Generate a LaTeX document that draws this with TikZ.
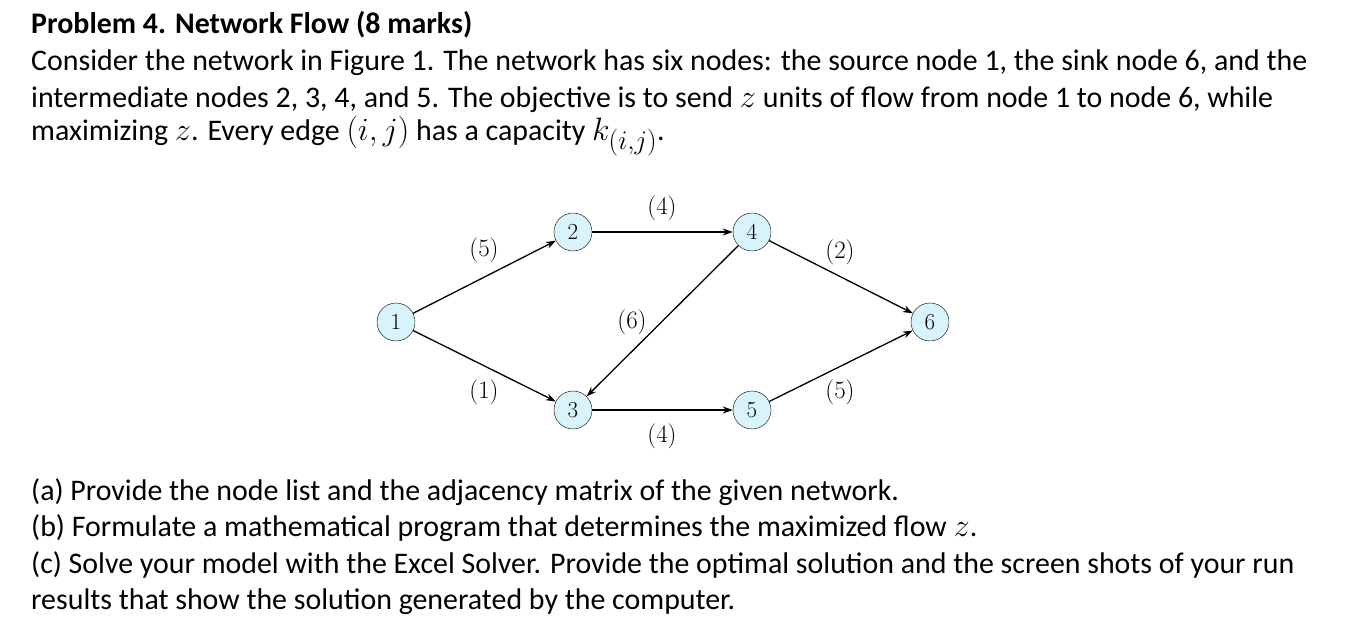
\documentclass[tikz,border=0pt]{standalone}
\usepackage{fontspec}
\setmainfont{Carlito}
\newfontfamily\lmr{Latin Modern Roman}
\usetikzlibrary{arrows.meta}
\newcommand{\mymath}[1]{\scalebox{1.3}{$#1$}}
\begin{document}
\begin{tikzpicture}[x=1pt,y=-1pt,
  txt/.style={anchor=west,inner sep=0pt,font=\fontsize{29.9}{32}\selectfont},
  nd/.style={circle,draw,fill=cyan!15,minimum size=38pt,inner sep=0pt,font=\lmr\fontsize{23}{23}\selectfont},
  lab/.style={font=\lmr\fontsize{25}{25}\selectfont},
  ed/.style={draw,line width=1.3pt,-{Stealth[length=10pt,width=7pt]}}]
\useasboundingbox (0,0) rectangle (1346,636);
\node[txt,font=\bfseries\fontsize{29.9}{32}\selectfont] (t0) at (31,25) {Problem 4. Network Flow (8 marks)};
\node[txt] (t1) at (31,63) {Consider the network in Figure 1. The network has six nodes: the source node 1, the sink node 6, and the};
\node[txt] (t2) at (31,100) {intermediate nodes 2, 3, 4, and 5. The objective is to send \mymath{z} units of flow from node 1 to node 6, while};
\node[txt] (t3) at (31,136) {maximizing \mymath{z}. Every edge \mymath{(i,j)} has a capacity \mymath{k_{(i,j)}}.};
\node[txt] (a) at (31,492) {(a) Provide the node list and the adjacency matrix of the given network.};
\node[txt] (b) at (31,528) {(b) Formulate a mathematical program that determines the maximized flow \mymath{z}.};
\node[txt] (c1) at (31,565) {(c) Solve your model with the Excel Solver. Provide the optimal solution and the screen shots of your run};
\node[txt] (c2) at (31,602) {results that show the solution generated by the computer.};
\node[nd] (n1) at (396,322) {1};
\node[nd] (n2) at (573,232) {2};
\node[nd] (n3) at (573,410) {3};
\node[nd] (n4) at (752,232) {4};
\node[nd] (n5) at (752,410) {5};
\node[nd] (n6) at (930,322) {6};
\draw[ed] (n1) -- (n2);
\draw[ed] (n1) -- (n3);
\draw[ed] (n2) -- (n4);
\draw[ed] (n3) -- (n5);
\draw[ed] (n4) -- (n3);
\draw[ed] (n4) -- (n6);
\draw[ed] (n5) -- (n6);
\node[lab] (l1) at (662,208) {(4)};
\node[lab] (l2) at (484,250) {(5)};
\node[lab] (l3) at (840,252) {(2)};
\node[lab] (l4) at (632,322) {(6)};
\node[lab] (l5) at (484,392) {(1)};
\node[lab] (l6) at (840,392) {(5)};
\node[lab] (l7) at (662,436) {(4)};
\end{tikzpicture}
\end{document}
